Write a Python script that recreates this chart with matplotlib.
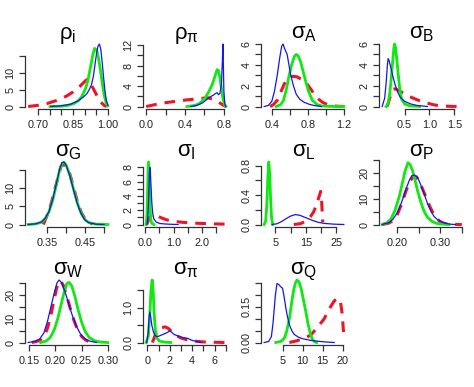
import matplotlib
matplotlib.use("Agg")
import matplotlib.pyplot as plt

plt.rcParams['font.family'] = ['Liberation Sans', 'DejaVu Sans']
plt.rcParams['mathtext.fontset'] = 'custom'
plt.rcParams['mathtext.rm'] = 'Liberation Sans'
plt.rcParams['mathtext.it'] = 'Liberation Sans'
plt.rcParams['mathtext.bf'] = 'Liberation Sans:bold'

# ---------------- data (x, density) ----------------
# rho_i
RHO_I_GREEN = [(0.752,0),(0.80,0.1),(0.83,0.35),(0.855,0.9),(0.875,1.8),(0.89,3.2),(0.905,5.5),(0.915,8),(0.925,11.5),(0.935,15.2),(0.943,17.3),(0.952,16.8),(0.96,14.5),(0.968,11),(0.976,7),(0.984,3.5),(0.992,1.2),(1.0,0.2)]
RHO_I_BLUE = [(0.755,0),(0.80,0.2),(0.84,0.7),(0.87,1.6),(0.895,2.8),(0.91,3.8),(0.92,5),(0.93,6.5),(0.938,9),(0.945,12.5),(0.952,16),(0.958,18),(0.964,18.6),(0.97,17),(0.976,13),(0.982,8.5),(0.988,4.5),(0.994,1.8),(1.0,0.4)]
RHO_I_RED = [(0.658,0),(0.70,0.35),(0.74,0.9),(0.78,1.8),(0.82,3.0),(0.85,4.3),(0.88,6.0),(0.90,7.4),(0.91,8.0),(0.925,7.0),(0.94,5.0),(0.955,3.0),(0.97,1.3),(0.985,0.3),(0.995,0)]
# rho_pi
RHO_PI_GREEN = [(0.42,0),(0.50,0.2),(0.55,0.6),(0.60,1.5),(0.64,2.7),(0.68,4.3),(0.71,6.0),(0.73,7.2),(0.745,7.0),(0.76,5.5),(0.775,3.5),(0.79,1.6),(0.805,0.4),(0.82,0)]
RHO_PI_BLUE = [(0.46,0),(0.52,0.2),(0.58,0.7),(0.62,1.3),(0.66,1.9),(0.69,2.2),(0.71,2.5),(0.73,2.7),(0.745,2.3),(0.76,2.6),(0.775,4.5),(0.785,9),(0.79,12.2),(0.795,8),(0.80,3),(0.81,0.5),(0.82,0)]
RHO_PI_RED = [(0.0,0),(0.1,0.4),(0.2,0.75),(0.3,1.0),(0.4,1.25),(0.5,1.45),(0.6,1.65),(0.64,1.7),(0.70,1.3),(0.75,0.8),(0.79,0.3),(0.82,0)]
# sigma_A
SIG_A_GREEN = [(0.45,0),(0.50,0.2),(0.53,0.6),(0.56,1.6),(0.59,2.9),(0.62,4.0),(0.65,4.8),(0.67,5.0),(0.69,4.9),(0.72,4.3),(0.75,3.3),(0.78,2.3),(0.81,1.4),(0.85,0.6),(0.90,0.2),(0.95,0.06),(1.05,0.01),(1.2,0)]
SIG_A_BLUE = [(0.315,0),(0.36,0.1),(0.40,0.5),(0.43,1.5),(0.46,3.0),(0.49,4.8),(0.51,5.8),(0.525,6.0),(0.54,5.6),(0.555,5.3),(0.57,5.0),(0.59,4.0),(0.61,3.0),(0.64,2.0),(0.67,1.2),(0.71,0.7),(0.76,0.4),(0.82,0.2),(0.88,0.08),(0.95,0)]
SIG_A_RED = [(0.38,0),(0.42,0.2),(0.46,0.6),(0.50,1.4),(0.54,2.2),(0.58,2.7),(0.63,2.9),(0.68,2.85),(0.73,2.6),(0.78,2.3),(0.83,1.7),(0.87,1.2),(0.92,0.7),(0.96,0.42),(1.0,0.25),(1.06,0.1),(1.12,0.03),(1.2,0)]
# sigma_B
SIG_B_GREEN = [(0.13,0),(0.17,0.3),(0.20,1.2),(0.23,2.6),(0.26,4.3),(0.285,5.6),(0.30,6.0),(0.32,5.6),(0.34,4.7),(0.37,3.2),(0.40,1.8),(0.44,0.7),(0.50,0.25),(0.6,0.06),(0.8,0)]
SIG_B_BLUE = [(0.05,0),(0.10,0.8),(0.13,2.3),(0.155,4.0),(0.17,4.6),(0.19,4.4),(0.21,4.0),(0.235,3.5),(0.27,2.8),(0.31,2.1),(0.36,1.4),(0.41,0.9),(0.5,0.5),(0.62,0.25),(0.75,0.1),(0.96,0)]
SIG_B_RED = [(0.15,0),(0.19,0.6),(0.23,1.3),(0.27,1.65),(0.31,1.7),(0.38,1.55),(0.45,1.35),(0.52,1.15),(0.6,0.95),(0.7,0.75),(0.8,0.55),(0.9,0.4),(1.0,0.27),(1.1,0.15),(1.2,0.08),(1.3,0.04),(1.45,0.01),(1.65,0)]
# sigma_G
SIG_G_GREEN = [(0.30,0),(0.32,0.15),(0.335,0.6),(0.345,1.6),(0.355,3.5),(0.365,6.8),(0.375,11.2),(0.383,15),(0.39,16.8),(0.395,17.0),(0.40,16.3),(0.41,13.5),(0.42,9.5),(0.43,5.8),(0.44,3.0),(0.45,1.3),(0.46,0.5),(0.48,0.08),(0.51,0)]
SIG_G_BLUE = [(0.30,0),(0.32,0.2),(0.335,0.7),(0.345,1.7),(0.355,3.6),(0.365,7.0),(0.375,11.5),(0.383,15.2),(0.389,16.9),(0.394,17.1),(0.40,16.2),(0.41,13.3),(0.42,9.3),(0.43,5.6),(0.44,2.9),(0.45,1.2),(0.46,0.5),(0.48,0.07),(0.50,0)]
SIG_G_RED = [(0.34,0),(0.35,2.5),(0.36,5.5),(0.37,9.5),(0.38,13.5),(0.387,16),(0.392,16.5),(0.397,16),(0.402,15.5),(0.41,13.8),(0.42,10),(0.43,6.2),(0.44,3.3),(0.45,1.5),(0.46,0.6),(0.47,0.1)]
# sigma_I
SIG_I_GREEN = [(0.03,0),(0.06,1.5),(0.085,5.5),(0.10,8.2),(0.115,8.75),(0.13,8.0),(0.15,5.0),(0.17,2.2),(0.19,0.8),(0.22,0.2),(0.3,0)]
SIG_I_BLUE = [(0.06,0),(0.09,1.0),(0.12,4.0),(0.145,7.2),(0.16,8.0),(0.175,7.6),(0.2,5.5),(0.23,3.0),(0.26,1.6),(0.3,0.8),(0.38,0.35),(0.5,0.15),(0.7,0.07),(0.9,0.03),(1.16,0)]
SIG_I_RED = [(0.05,0),(0.1,0.5),(0.15,1.0),(0.22,1.35),(0.3,1.4),(0.4,1.25),(0.5,1.05),(0.65,0.8),(0.8,0.6),(1.0,0.45),(1.25,0.33),(1.5,0.25),(1.8,0.18),(2.1,0.13),(2.5,0.08),(2.85,0.05)]
# sigma_L
SIG_L_GREEN = [(1.3,0),(1.8,0.05),(2.2,0.3),(2.5,0.65),(2.8,0.85),(3.1,0.7),(3.4,0.35),(3.7,0.1),(4.1,0)]
SIG_L_BLUE = [(3.9,0),(5.5,0.01),(7,0.04),(8.5,0.08),(10,0.115),(11.5,0.135),(13,0.125),(14.5,0.1),(16,0.075),(17.5,0.05),(19,0.03),(21,0.015),(24,0.005),(27.4,0)]
SIG_L_RED = [(11,0),(13,0.01),(14.5,0.035),(15.5,0.07),(16.5,0.11),(17.5,0.17),(18.5,0.28),(19.3,0.38),(19.8,0.45),(20.1,0.35),(20.3,0.18),(20.5,0.03)]
# sigma_P
SIG_P_GREEN = [(0.165,0),(0.175,0.6),(0.185,2.0),(0.195,5.5),(0.205,11),(0.212,16),(0.218,20.5),(0.225,23.8),(0.230,23),(0.236,20.5),(0.242,16.5),(0.248,12.5),(0.255,8.5),(0.262,5.2),(0.27,2.8),(0.28,1.3),(0.29,0.5),(0.30,0.2),(0.32,0)]
SIG_P_BLUE = [(0.165,0),(0.18,0.7),(0.19,2.0),(0.20,4.5),(0.21,8.5),(0.22,13.5),(0.228,17.0),(0.234,18.8),(0.24,19.0),(0.247,18.2),(0.254,15.5),(0.262,12.0),(0.27,8.2),(0.278,5.2),(0.286,3.0),(0.296,1.5),(0.31,0.5),(0.325,0.1),(0.335,0)]
SIG_P_RED = [(0.165,0),(0.18,0.5),(0.19,1.5),(0.20,3.8),(0.21,7.8),(0.22,12.8),(0.23,16.8),(0.238,18.6),(0.244,18.4),(0.252,16.3),(0.26,13.2),(0.268,10),(0.276,6.8),(0.284,4.2),(0.292,2.3),(0.30,1.1),(0.31,0.4),(0.325,0.08),(0.35,0)]
# sigma_W
SIG_W_GREEN = [(0.172,0),(0.182,0.6),(0.19,2),(0.198,5.5),(0.205,10.5),(0.211,16),(0.217,21.5),(0.222,24.8),(0.226,25.2),(0.231,23.8),(0.237,19.5),(0.243,14),(0.25,8.5),(0.257,4.5),(0.265,2),(0.275,0.7),(0.285,0.2),(0.3,0)]
SIG_W_BLUE = [(0.148,0),(0.16,0.4),(0.17,1.5),(0.178,4),(0.185,9),(0.192,15.5),(0.198,21),(0.203,25),(0.207,26.2),(0.212,25),(0.218,21.5),(0.225,16.5),(0.232,11.5),(0.24,6.8),(0.248,3.5),(0.256,1.6),(0.265,0.6),(0.278,0)]
SIG_W_RED = [(0.155,0),(0.17,0.8),(0.178,2.5),(0.184,5.5),(0.19,10),(0.196,16.5),(0.202,22.5),(0.206,25.5),(0.21,25.8),(0.215,24),(0.221,20),(0.228,14.5),(0.235,9.5),(0.242,5.5),(0.25,2.5),(0.258,1),(0.265,0.3),(0.272,0)]
# sigma_pi
SIG_PI_GREEN = [(-0.1,0),(0.1,0.2),(0.22,0.8),(0.33,1.5),(0.43,1.8),(0.52,1.5),(0.62,0.8),(0.72,0.35),(0.85,0.12),(1.1,0.04),(1.5,0.01),(2.1,0)]
SIG_PI_BLUE = [(-0.05,0),(0.08,0.3),(0.15,0.7),(0.22,0.88),(0.3,0.75),(0.4,0.5),(0.55,0.3),(0.7,0.2),(0.85,0.17),(1.0,0.18),(1.3,0.22),(1.6,0.26),(1.85,0.3),(2.0,0.34),(2.15,0.3),(2.4,0.23),(2.8,0.18),(3.2,0.14),(3.6,0.12),(4.0,0.06),(4.4,0.03),(4.8,0)]
SIG_PI_RED = [(0.45,0),(0.6,0.12),(0.8,0.3),(1.0,0.38),(1.3,0.43),(1.6,0.45),(1.9,0.4),(2.2,0.3),(2.6,0.2),(3.0,0.13),(3.5,0.08),(4.0,0.05),(4.8,0.02),(5.5,0.01),(7.0,0)]
# sigma_Q
SIG_Q_GREEN = [(3.3,0),(4.5,0.004),(5.4,0.017),(6.0,0.045),(6.7,0.10),(7.2,0.16),(7.75,0.22),(8.2,0.25),(8.6,0.263),(9.1,0.255),(9.6,0.23),(10.2,0.18),(10.8,0.13),(11.4,0.075),(11.9,0.04),(12.4,0.015),(13,0.003),(13.5,0)]
SIG_Q_BLUE = [(0.4,0),(1.5,0.004),(2.2,0.025),(2.6,0.08),(2.9,0.14),(3.2,0.2),(3.6,0.248),(4.0,0.245),(4.5,0.235),(5.0,0.228),(5.4,0.19),(5.8,0.146),(6.2,0.11),(6.7,0.074),(7.3,0.05),(7.9,0.034),(9,0.022),(10,0.016),(12,0.009),(14,0.005),(16,0.002),(17.9,0)]
SIG_Q_RED = [(6.7,0),(8,0.005),(9.5,0.012),(11,0.022),(12.1,0.032),(13,0.05),(14,0.07),(15.4,0.10),(16.6,0.14),(17.9,0.175),(18.8,0.185),(19.4,0.18),(19.9,0.12),(20.2,0.05),(20.3,0.02)]

TITLES = [r'$\rho_i$', r'$\rho_\pi$', r'$\sigma_A$', r'$\sigma_B$',
          r'$\sigma_G$', r'$\sigma_I$', r'$\sigma_L$', r'$\sigma_P$',
          r'$\sigma_W$', r'$\sigma_\pi$', r'$\sigma_Q$']

X_TICKS = [[0.70,0.75,0.80,0.85,0.90,0.95,1.00], [0.0,0.2,0.4,0.6,0.8], [0.4,0.6,0.8,1.0,1.2], [0.5,1.0,1.5],
           [0.35,0.40,0.45,0.50], [0.0,0.5,1.0,1.5,2.0,2.5], [5,10,15,20,25], [0.20,0.25,0.30,0.35],
           [0.15,0.20,0.25,0.30], [0,1,2,3,4,5,6,7], [5,10,15,20]]
X_LABELS = [['0.70','','','0.85','','','1.00'], ['0.0','','0.4','','0.8'], ['0.4','','0.8','','1.2'], ['0.5','1.0','1.5'],
            ['0.35','','0.45',''], ['0.0','','1.0','','2.0',''], ['5','','15','','25'], ['0.20','','0.30',''],
            ['0.15','0.20','0.25','0.30'], ['0','','2','','4','','6',''], ['5','10','15','20']]
Y_TICKS = [[0,5,10,15], [0,2,4,6,8,10,12], [0,1,2,3,4,5,6], [0,1,2,3,4,5,6],
           [0,5,10,15], [0,1,2,3,4,5,6,7,8], [0,0.2,0.4,0.6,0.8], [0,5,10,15,20,25],
           [0,5,10,15,20,25], [0,0.5,1.0,1.5], [0,0.05,0.10,0.15,0.20,0.25]]
Y_LABELS = [['0','5','10',''], ['0','','4','','8','','12'], ['0','','2','','4','','6'], ['0','','2','','4','','6'],
            ['0','5','10',''], ['0','','2','','4','','6','','8'], ['0.0','','0.4','','0.8'], ['0','','10','','20',''],
            ['0','','10','','20',''], ['0.0','','1.0',''], ['0.00','','','0.15','','']]

GREENS = [RHO_I_GREEN, RHO_PI_GREEN, SIG_A_GREEN, SIG_B_GREEN, SIG_G_GREEN, SIG_I_GREEN,
          SIG_L_GREEN, SIG_P_GREEN, SIG_W_GREEN, SIG_PI_GREEN, SIG_Q_GREEN]
BLUES = [RHO_I_BLUE, RHO_PI_BLUE, SIG_A_BLUE, SIG_B_BLUE, SIG_G_BLUE, SIG_I_BLUE,
         SIG_L_BLUE, SIG_P_BLUE, SIG_W_BLUE, SIG_PI_BLUE, SIG_Q_BLUE]
REDS = [RHO_I_RED, RHO_PI_RED, SIG_A_RED, SIG_B_RED, SIG_G_RED, SIG_I_RED,
        SIG_L_RED, SIG_P_RED, SIG_W_RED, SIG_PI_RED, SIG_Q_RED]

# ---------------- drawing ----------------
W, H = 474, 387
fig = plt.figure(figsize=(W / 100, H / 100), dpi=100)

AX_COL = '#333333'
C_GREEN = '#11e811'
C_BLUE = '#1414ee'
C_RED = '#ee1428'

def xy(pts):
    return [p[0] for p in pts], [p[1] for p in pts]

for i in range(11):
    r, c = divmod(i, 4)
    left = 25 + 118 * c
    bottom = 109 + 118 * r
    wpx, hpx = 86, 67.5
    ax = fig.add_axes([left / W, 1 - bottom / H, wpx / W, hpx / H])
    ax.patch.set_alpha(0)
    x, y = xy(REDS[i])
    ax.plot(x, y, color=C_RED, lw=2.2, dashes=(3.5, 2.6), solid_capstyle='butt', dash_capstyle='butt')
    x, y = xy(GREENS[i])
    ax.plot(x, y, color=C_GREEN, lw=2.0)
    x, y = xy(BLUES[i])
    ax.plot(x, y, color=C_BLUE, lw=0.9)
    ax.margins(x=0.04, y=0.04)
    ax.autoscale_view()
    ax.set_xticks(X_TICKS[i])
    ax.set_xticklabels(X_LABELS[i])
    ax.set_yticks(Y_TICKS[i])
    ax.set_yticklabels(Y_LABELS[i], rotation=90, va='center')
    for s in ('top', 'right'):
        ax.spines[s].set_visible(False)
    ax.spines['left'].set_bounds(Y_TICKS[i][0], Y_TICKS[i][-1])
    ax.spines['bottom'].set_bounds(X_TICKS[i][0], X_TICKS[i][-1])
    for s in ('left', 'bottom'):
        ax.spines[s].set_color(AX_COL)
        ax.spines[s].set_linewidth(0.9)
    ax.tick_params(axis='both', direction='out', length=4.1, width=0.9, color=AX_COL,
                   labelsize=7.8, labelcolor='#222222')
    ax.tick_params(axis='x', pad=4.0)
    ax.tick_params(axis='y', pad=2.8)
    # title
    fig.text((left + wpx / 2) / W, 1 - (bottom - hpx - 3) / H, TITLES[i],
             ha='center', va='baseline', fontsize=16, color='black')

fig.savefig('out.png', dpi=100)
